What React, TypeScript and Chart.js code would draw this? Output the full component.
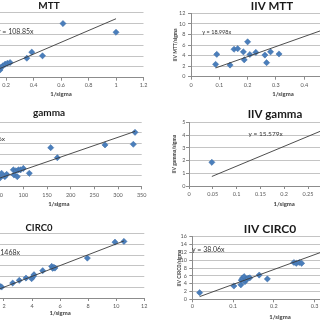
import React, { useEffect, useRef } from "react";
import { Chart, registerables } from "chart.js";
Chart.register(...registerables);

const FONT = "Lato, 'Open Sans', sans-serif";
Chart.defaults.font.family = FONT;

// ---------- DATA ----------
// MTT
const mttX = [0.08, 0.1, 0.12, 0.14, 0.156, 0.163, 0.176, 0.193, 0.21, 0.229, 0.351, 0.387, 0.465, 0.614, 1.0];
const mttY = [9, 12, 10, 16, 14.3, 19.3, 21.7, 24.9, 26.7, 28, 36, 47.2, 40.4, 100, 83.9];
const mttSlope = 108.85;
const mttTrendRange = [0.08, 1.0];
const mttXAxis = [0, 1.2, 0.2];
const mttYAxis = [0, 120, 20];

// IIV MTT
const iivMttX = [0.087, 0.091, 0.138, 0.152, 0.165, 0.185, 0.188, 0.2, 0.208, 0.229, 0.261, 0.267, 0.281, 0.311];
const iivMttY = [2.34, 4.23, 2.2, 5.2, 5.3, 4.7, 3.2, 6.6, 4.2, 4.6, 4.1, 2.65, 4.7, 4.3];
const iivMttSlope = 18.998;
const iivMttTrendRange = [0.087, 0.6];
const iivMttXAxis = [0, 0.65, 0.1];
const iivMttYAxis = [0, 12, 2];

// gamma
const gammaX = [25, 35, 42, 50.7, 54, 61, 64.8, 78.9, 80.3, 84.5, 87.2, 89.6, 94, 100, 112.6, 157.8, 171.8, 272.5, 332.3, 335.9];
const gammaY = [2.5, 3.1, 2.8, 3.9, 6.1, 4.5, 5.6, 7.7, 5.3, 7.3, 4.5, 7.7, 7.7, 8.4, 6.1, 18.1, 13.4, 19.4, 19.7, 25.3];
const gammaSlope = 0.0766;
const gammaTrendRange = [25, 335.9];
const gammaXAxis = [0, 350, 50];
const gammaYAxis = [0, 30, 5];

// IIV gamma
const iivGammaX = [0.048];
const iivGammaY = [1.86];
const iivGammaSlope = 15.579;
const iivGammaTrendRange = [0.048, 0.38];
const iivGammaXAxis = [0, 0.4, 0.05];
const iivGammaYAxis = [0, 5, 1];

// CIRC0
const circX = [1.0, 1.4, 1.72, 1.83, 2.62, 3.09, 3.57, 3.97, 4.09, 4.14, 4.76, 5.4, 5.47, 5.56, 5.63, 7.94, 9.91, 10.55];
const circY = [1.2, 1.5, 2.47, 2.33, 3.17, 3.74, 4.23, 4.1, 4.58, 4.94, 5.8, 6.7, 6.3, 6.5, 6.35, 8.46, 11.85, 12.0];
const circSlope = 1.1468;
const circTrendRange = [1.0, 10.55];
const circXAxis = [0, 12, 2];
const circYAxis = [0, 13.68, 2.28];

// IIV CIRC0
const iivCircX = [0.018, 0.102, 0.119, 0.12, 0.123, 0.127, 0.129, 0.132, 0.137, 0.141, 0.164, 0.184, 0.249, 0.255, 0.262, 0.268];
const iivCircY = [1.7, 3.4, 3.7, 4.9, 5.4, 5.8, 4.5, 5.1, 5.4, 5.5, 6.2, 5.2, 9.4, 9.2, 9.4, 9.2];
const iivCircSlope = 38.06;
const iivCircTrendRange = [0.018, 0.42];
const iivCircXAxis = [0, 0.43, 0.1];
const iivCircYAxis = [0, 16, 2];

// ---------- LAYOUT ----------
type Lay = {
  plotL: number; plotR: number; plotT: number; plotB: number;
  titleCX: number; titleCY: number; titleSize: number;
  yTitleCX?: number; yTickR?: number;
  xTickCY: number; xTitleCY: number;
  labelX: number; labelY: number; labelAlign: CanvasTextAlign; labelSize: number;
};

type Cfg = {
  title: string; yTitle: string; xs: number[]; ys: number[]; slope: number;
  trend: number[]; xAxis: number[]; yAxis: number[]; lay: Lay; yVisible: boolean;
};

const TL = 3;
const TICK_SIZE = 5.5;
const XTITLE_SIZE = 6;
const YTITLE_SIZE = 5;

function geom(L: Lay) {
  const titleLeft = 2 * L.titleCX - L.plotR;
  const CL = Math.floor(titleLeft);
  const pl = titleLeft - CL;
  const yW = L.plotL - titleLeft;
  const CW = Math.ceil(L.plotR + 8 - CL);
  const pr = CL + CW - L.plotR;
  const tLh = L.titleSize;
  const titleTop = L.titleCY - tLh / 2;
  const CT = Math.floor(titleTop);
  const pt = titleTop - CT;
  const tPadB = Math.max(0, L.plotT - (L.titleCY + tLh / 2));
  const xBottom = L.xTitleCY + (XTITLE_SIZE * 1.2) / 2;
  const xH = xBottom - L.plotB;
  const CH = Math.ceil(xBottom + 1 - CT);
  const pb = CT + CH - xBottom;
  const xTickPad = Math.max(0, L.xTickCY - L.plotB - TL - (TICK_SIZE * 1.2) / 2);
  const yTickR = L.yTickR ?? L.plotL - 5;
  const yTickPad = Math.max(0, L.plotL - yTickR - TL);
  const yTitleCX = L.yTitleCX ?? titleLeft + 6;
  const yTitlePad = Math.max(0, yTitleCX - titleLeft - (YTITLE_SIZE * 1.2) / 2);
  return { CL, CT, CW, CH, pl, pr, pt, pb, yW, xH, tPadB, xTickPad, yTickPad, yTitlePad };
}

const fmt = (v: any) => String(Math.round(Number(v) * 10000) / 10000);

const trendLabelPlugin = {
  id: "trendLabel",
  afterDatasetsDraw(chart: any, _args: any, opts: any) {
    const { ctx } = chart;
    const x = chart.scales.x, y = chart.scales.y;
    ctx.save();
    ctx.font = `${opts.size}px ${FONT}`;
    ctx.fillStyle = "#333333";
    ctx.textAlign = opts.align;
    ctx.textBaseline = "middle";
    ctx.fillText(opts.text, x.getPixelForValue(opts.x), y.getPixelForValue(opts.y));
    ctx.restore();
  },
};

const AXIS = "#8c8c8c";
const GRID = "#c4c4c4";
const TXT = "#595959";

function Panel({ cfg }: { cfg: Cfg }) {
  const ref = useRef<HTMLCanvasElement>(null);
  const g = geom(cfg.lay);
  useEffect(() => {
    const pts = cfg.xs.map((x, i) => ({ x, y: cfg.ys[i] }));
    const trend = cfg.trend.map((x) => ({ x, y: cfg.slope * x }));
    const chart = new Chart(ref.current as HTMLCanvasElement, {
      type: "scatter",
      data: {
        datasets: [
          {
            type: "line",
            data: trend,
            borderColor: "#3a3a3a",
            borderWidth: 0.9,
            pointRadius: 0,
            fill: false,
          } as any,
          {
            data: pts,
            pointStyle: "rectRot",
            pointRadius: 3.1,
            backgroundColor: "#4a7ebb",
            borderColor: "#3d6ca6",
            borderWidth: 0.5,
          },
        ],
      },
      options: {
        responsive: false,
        animation: false,
        layout: { autoPadding: false, padding: { left: g.pl, right: g.pr, top: g.pt, bottom: g.pb } },
        plugins: {
          legend: { display: false },
          tooltip: { enabled: false },
          title: {
            display: true,
            text: cfg.title,
            color: "#1a1a1a",
            font: { size: cfg.lay.titleSize, weight: "bold", family: FONT, lineHeight: 1 },
            padding: { top: 0, bottom: g.tPadB },
          },
          trendLabel: {
            text: `y = ${cfg.slope}x`,
            x: cfg.lay.labelX,
            y: cfg.lay.labelY,
            align: cfg.lay.labelAlign,
            size: cfg.lay.labelSize,
          },
        } as any,
        scales: {
          x: {
            type: "linear",
            position: "bottom",
            min: cfg.xAxis[0],
            max: cfg.xAxis[1],
            afterFit: (s: any) => { s.height = g.xH; },
            ticks: {
              stepSize: cfg.xAxis[2],
              padding: g.xTickPad,
              font: { size: TICK_SIZE },
              color: TXT,
              callback: fmt,
              maxRotation: 0,
              autoSkip: false,
            },
            grid: { display: true, drawOnChartArea: false, drawTicks: true, tickLength: TL, tickColor: AXIS },
            border: { display: true, color: AXIS, width: 1 },
            title: {
              display: true,
              text: "1/sigma",
              color: "#404040",
              font: { size: XTITLE_SIZE, weight: "bold" },
              padding: { top: 0, bottom: 0 },
            },
          },
          y: {
            type: "linear",
            min: cfg.yAxis[0],
            max: cfg.yAxis[1],
            afterFit: (s: any) => { s.width = g.yW; },
            ticks: {
              stepSize: cfg.yAxis[2],
              padding: g.yTickPad,
              font: { size: TICK_SIZE },
              color: TXT,
              callback: fmt,
              autoSkip: false,
            },
            grid: { color: GRID, lineWidth: 1, drawTicks: true, tickLength: TL, tickColor: AXIS },
            border: { display: cfg.yVisible, color: AXIS, width: 1 },
            title: {
              display: true,
              text: cfg.yTitle,
              color: "#404040",
              font: { size: YTITLE_SIZE, weight: "bold" },
              padding: { top: g.yTitlePad, bottom: 0 },
            },
          },
        },
      },
      plugins: [trendLabelPlugin],
    });
    return () => chart.destroy();
  }, []);
  return (
    <canvas
      ref={ref}
      width={g.CW}
      height={g.CH}
      style={{ position: "absolute", left: g.CL, top: g.CT, width: g.CW, height: g.CH }}
    />
  );
}

const panels: Cfg[] = [
  {
    title: "MTT", yTitle: "MTT/sigma", xs: mttX, ys: mttY, slope: mttSlope, trend: mttTrendRange,
    xAxis: mttXAxis, yAxis: mttYAxis, yVisible: false,
    lay: { plotL: -21.4, plotR: 143.5, plotT: 12.7, plotB: 77.7, titleCX: 49, titleCY: 6, titleSize: 10,
      xTickCY: 85, xTitleCY: 94.3, labelX: 0.4, labelY: 85.7, labelAlign: "right", labelSize: 7 },
  },
  {
    title: "IIV MTT", yTitle: "IIV MTT/sigma", xs: iivMttX, ys: iivMttY, slope: iivMttSlope, trend: iivMttTrendRange,
    xAxis: iivMttXAxis, yAxis: iivMttYAxis, yVisible: true,
    lay: { plotL: 191, plotR: 375, plotT: 13.3, plotB: 76.7, titleCX: 272, titleCY: 6.4, titleSize: 11.5,
      yTitleCX: 175, yTickR: 185.5, xTickCY: 85, xTitleCY: 94.3, labelX: 0.091, labelY: 8.33, labelAlign: "center", labelSize: 5.5 },
  },
  {
    title: "gamma", yTitle: "gamma/sigma", xs: gammaX, ys: gammaY, slope: gammaSlope, trend: gammaTrendRange,
    xAxis: gammaXAxis, yAxis: gammaYAxis, yVisible: false,
    lay: { plotL: -24, plotR: 141.7, plotT: 122.3, plotB: 186.3, titleCX: 49, titleCY: 113, titleSize: 10,
      xTickCY: 195, xTitleCY: 204.3, labelX: 61.3, labelY: 22.2, labelAlign: "right", labelSize: 6.5 },
  },
  {
    title: "IIV gamma", yTitle: "IIV gamma/sigma", xs: iivGammaX, ys: iivGammaY, slope: iivGammaSlope, trend: iivGammaTrendRange,
    xAxis: iivGammaXAxis, yAxis: iivGammaYAxis, yVisible: true,
    lay: { plotL: 189, plotR: 379.4, plotT: 122.3, plotB: 186, titleCX: 275, titleCY: 114, titleSize: 11.5,
      yTitleCX: 174, yTickR: 185.5, xTickCY: 194.3, xTitleCY: 204.3, labelX: 0.161, labelY: 4.08, labelAlign: "center", labelSize: 6.5 },
  },
  {
    title: "CIRC0", yTitle: "CIRC0/sigma", xs: circX, ys: circY, slope: circSlope, trend: circTrendRange,
    xAxis: circXAxis, yAxis: circYAxis, yVisible: false,
    lay: { plotL: -24.07, plotR: 144.3, plotT: 233.5, plotB: 298, titleCX: 39, titleCY: 228.3, titleSize: 9.5,
      xTickCY: 306.7, xTitleCY: 313.3, labelX: 3.14, labelY: 9.58, labelAlign: "right", labelSize: 7 },
  },
  {
    title: "IIV CIRC0", yTitle: "IIV CIRC0/sigma", xs: iivCircX, ys: iivCircY, slope: iivCircSlope, trend: iivCircTrendRange,
    xAxis: iivCircXAxis, yAxis: iivCircYAxis, yVisible: true,
    lay: { plotL: 192.3, plotR: 367.7, plotT: 236.7, plotB: 299.3, titleCX: 270, titleCY: 229, titleSize: 12,
      yTitleCX: 179, yTickR: 187, xTickCY: 306.7, xTitleCY: 316.7, labelX: 0.039, labelY: 12.6, labelAlign: "center", labelSize: 7 },
  },
];

export default function App() {
  return (
    <div
      style={{
        position: "absolute", left: 0, top: 0, width: 320, height: 320,
        overflow: "hidden", background: "#ffffff",
      }}
    >
      {panels.map((p) => (
        <Panel key={p.title} cfg={p} />
      ))}
    </div>
  );
}
